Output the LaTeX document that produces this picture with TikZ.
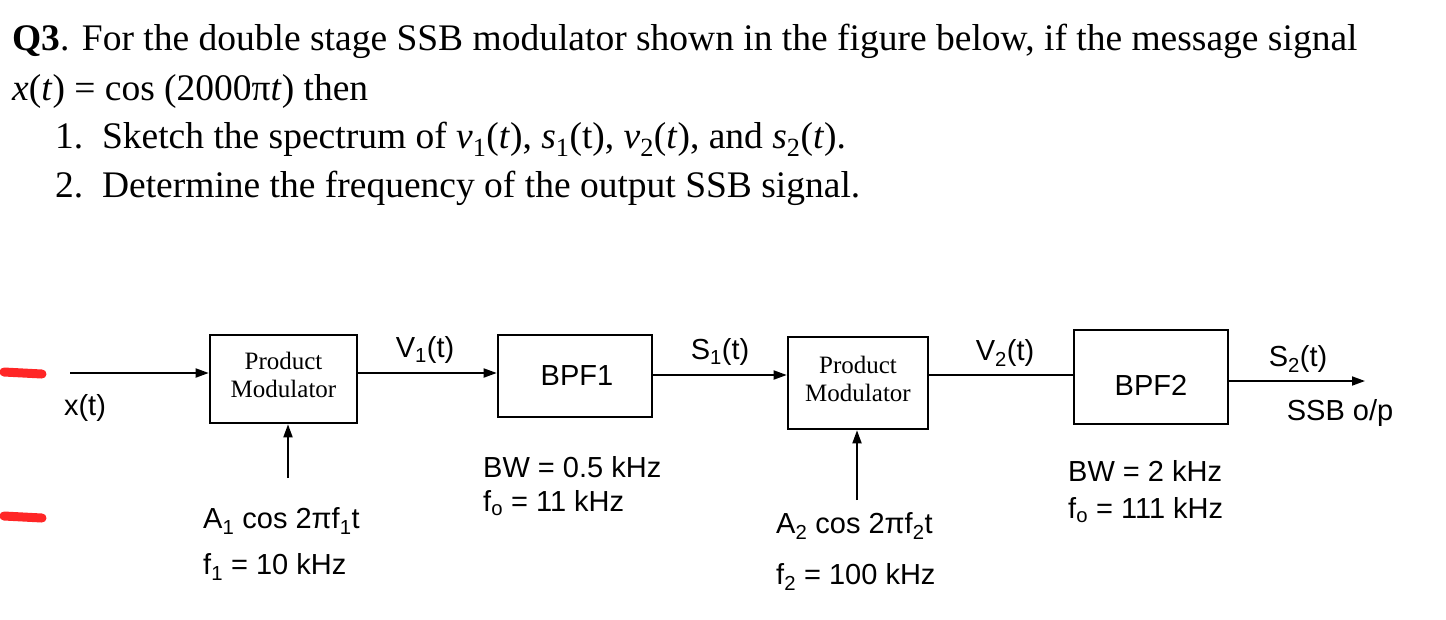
\documentclass[tikz,border=0pt]{standalone}
\usepackage{fontspec}
\setmainfont{Liberation Serif}
\newfontfamily\arial{Liberation Sans}
\usetikzlibrary{arrows.meta}
\begin{document}
\begin{tikzpicture}[x=1pt,y=-1pt,
  blk/.style={draw,line width=2.6pt,inner sep=0},
  lbl/.style={font=\arial\fontsize{29}{32}\selectfont,inner sep=0},
  pm/.style={font=\fontsize{25}{28}\selectfont,align=center,inner sep=0},
  q/.style={font=\fontsize{37.5}{40}\selectfont,anchor=base west,inner sep=0},
  ar/.style={line width=1.8pt,-{Triangle[length=13pt,width=9pt]}},
  ln/.style={line width=1.8pt}]
\useasboundingbox (0,0) rectangle (1446,619);
\node[q] (t1) at (12,50) {\textbf{Q3}. For the double stage SSB modulator shown in the figure below, if the message signal};
\node[q] (t2) at (12,100) {\textit{x}(\textit{t}) = cos (2000π\textit{t}) then};
\node[q] (t3) at (55,148) {1.\ \ Sketch the spectrum of \textit{v}\textsubscript{1}(\textit{t}), \textit{s}\textsubscript{1}(t), \textit{v}\textsubscript{2}(\textit{t}), and \textit{s}\textsubscript{2}(\textit{t}).};
\node[q] (t4) at (55,197) {2.\ \ Determine the frequency of the output SSB signal.};
\draw[red!85!white,line width=9pt,line cap=round] (4,372) -- (42,374);
\draw[red!85!white,line width=9pt,line cap=round] (4,516) -- (42,518);
\node[blk,minimum width=147pt,minimum height=88pt] (pm1) at (283.5,379) {};
\node[pm] (pm1t) at (283.5,375) {Product\\Modulator};
\node[blk,minimum width=154pt,minimum height=82pt] (b1) at (575,376) {};
\node[lbl] (b1t) at (577,376) {BPF1};
\node[blk,minimum width=140pt,minimum height=92pt] (pm2) at (858,383) {};
\node[pm] (pm2t) at (858,379) {Product\\Modulator};
\node[blk,minimum width=154pt,minimum height=94pt] (b2) at (1151,377) {};
\node[lbl] (b2t) at (1151,385) {BPF2};
\coordinate (in) at (70,373);
\coordinate (out) at (1365,381);
\coordinate (c1) at (288,478);
\coordinate (c2) at (857,500);
\draw[ar] (in) -- (in -| pm1.west);
\draw[ar] (pm1.east |- 0,373) -- (b1.west |- 0,373);
\draw[ar] (b1.east |- 0,375) -- (pm2.west |- 0,375);
\draw[ln] (pm2.east |- 0,375) -- (b2.west |- 0,375);
\draw[ar] (b2.east |- out) -- (out);
\draw[ar] (c1) -- (c1 |- pm1.south);
\draw[ar] (c2) -- (c2 |- pm2.south);
\node[lbl] (x) at (85,408) {x(t)};
\node[lbl] (v1) at (425,350) {V\textsubscript{1}(t)};
\node[lbl] (s1) at (720,352) {S\textsubscript{1}(t)};
\node[lbl] (v2) at (1005,353) {V\textsubscript{2}(t)};
\node[lbl] (s2) at (1298,359) {S\textsubscript{2}(t)};
\node[lbl] (ssb) at (1340,413) {SSB o/p};
\node[lbl,anchor=west] (a1) at (203,521) {A\textsubscript{1} cos 2πf\textsubscript{1}t};
\node[lbl,anchor=west] (f1) at (203,567) {f\textsubscript{1} = 10 kHz};
\node[lbl,anchor=west] (bw1) at (483,467) {BW = 0.5 kHz};
\node[lbl,anchor=west] (fo1) at (483,503) {f\textsubscript{o} = 11 kHz};
\node[lbl,anchor=west] (a2) at (776,526) {A\textsubscript{2} cos 2πf\textsubscript{2}t};
\node[lbl,anchor=west] (f2) at (776,577) {f\textsubscript{2} = 100 kHz};
\node[lbl,anchor=west] (bw2) at (1068,471) {BW = 2 kHz};
\node[lbl,anchor=west] (fo2) at (1068,510) {f\textsubscript{o} = 111 kHz};
\end{tikzpicture}
\end{document}
